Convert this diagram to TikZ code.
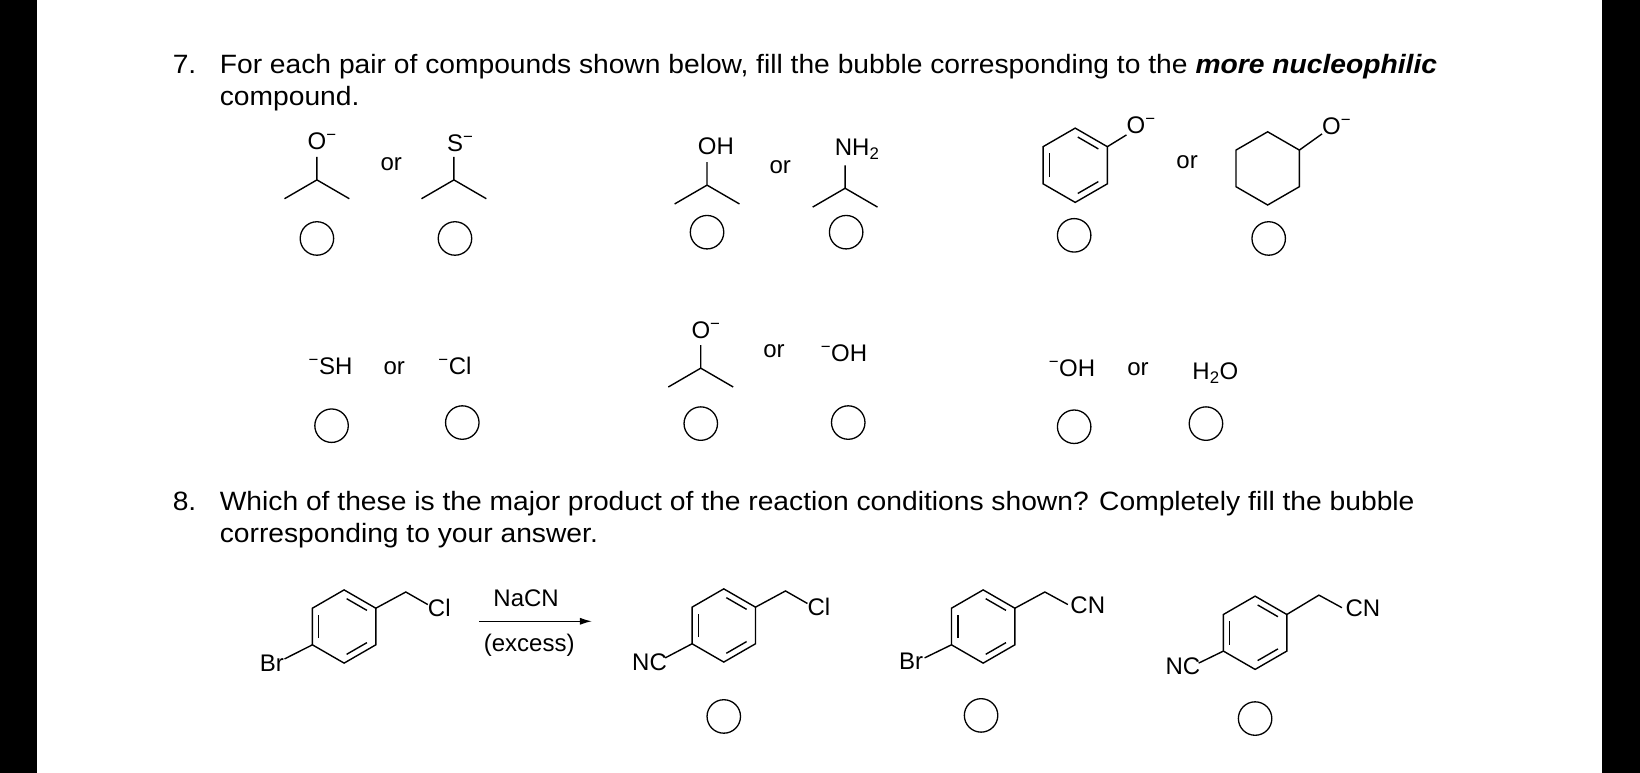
\documentclass[tikz,border=0pt]{standalone}
\usepackage{fontspec}
\setmainfont{Liberation Sans}
\newfontfamily\qfont[FakeStretch=1.065]{Liberation Sans}
\usetikzlibrary{calc,arrows.meta}
\newcommand\hexring[5]{% name, x, y, R, aromatic
  \coordinate (#1c) at (#2,#3);
  \coordinate (#1t) at (#2,#3-#4);
  \coordinate (#1ur) at (#2+0.866*#4,#3-0.5*#4);
  \coordinate (#1lr) at (#2+0.866*#4,#3+0.5*#4);
  \coordinate (#1b) at (#2,#3+#4);
  \coordinate (#1ll) at (#2-0.866*#4,#3+0.5*#4);
  \coordinate (#1ul) at (#2-0.866*#4,#3-0.5*#4);
  \draw[bond] (#1t)--(#1ur)--(#1lr)--(#1b)--(#1ll)--(#1ul)--cycle;
  \ifnum#5=1
   \foreach \a/\b in {t/ur,lr/b,ll/ul}{
     \draw[bond] ($($(#1c)!0.8!(#1\a)$)!0.1!($(#1c)!0.8!(#1\b)$)$) -- ($($(#1c)!0.8!(#1\a)$)!0.9!($(#1c)!0.8!(#1\b)$)$);
   }
  \fi
}
\begin{document}
\begin{tikzpicture}[x=1.046pt,y=-1.046pt,
  bond/.style={line width=1.4pt},
  bub/.style={line width=1.3pt},
  q/.style={font=\qfont\fontsize{26.5}{30}\selectfont,anchor=base west,inner sep=0},
  lab/.style={font=\fontsize{24}{26}\selectfont,inner sep=0}]
\fill[black] (0,0) rectangle (1568,739);
\fill[white] (35,0) rectangle (1532,739);
\useasboundingbox (0,0) rectangle (1568,739);
% question 7
\node[q] (n7) at (165,70) {7.};
\node[q] (t7a) at (210,70) {For each pair of compounds shown below, fill the bubble corresponding to the \textbf{\textit{more nucleophilic}}};
\node[q] (t7b) at (210,101) {compound.};
% row 1
\newcommand\iso[2]{%
  \draw[bond] (#1,#2) -- (#1,#2+22) -- (#1-31,#2+40);
  \draw[bond] (#1,#2+22) -- (#1+31,#2+40);}
\iso{303}{150}
\node[lab] (oa) at (308,135) {O\textsuperscript{−}};
\node[lab] (or1) at (374,157) {or};
\iso{434}{150}
\node[lab] (sb) at (440,137) {S\textsuperscript{−}};
\draw[bub] (303,228) circle (16);
\draw[bub] (435,228) circle (16);
\iso{676}{155}
\node[lab,anchor=west] (oc) at (667,140) {OH};
\node[lab] (or2) at (746,160) {or};
\iso{808}{158}
\node[lab,anchor=west] (nd) at (798,143) {NH\textsubscript{2}};
\draw[bub] (676,222) circle (16);
\draw[bub] (809,222) circle (16);
\hexring{pe}{1028}{158}{35.5}{1}
\draw[bond] (peur) -- (1077,129);
\node[lab] (oe) at (1091,120) {O\textsuperscript{−}};
\node[lab] (or3) at (1135,155) {or};
\hexring{cf}{1212}{161}{35}{0}
\draw[bond] (cfur) -- (1264,128);
\node[lab] (of) at (1278,121) {O\textsuperscript{−}};
\draw[bub] (1027,225) circle (16);
\draw[bub] (1213,228) circle (16);
% row 2
\node[lab] (sh) at (316,350) {\textsuperscript{−}SH};
\node[lab] (or4) at (377,352) {or};
\node[lab] (cl) at (435,350) {\textsuperscript{−}Cl};
\draw[bub] (317,407) circle (16);
\draw[bub] (442,404) circle (16);
\iso{670}{330}
\node[lab] (og) at (675,316) {O\textsuperscript{−}};
\node[lab] (or5) at (740,336) {or};
\node[lab] (oh) at (807,338) {\textsuperscript{−}OH};
\draw[bub] (670,405) circle (16);
\draw[bub] (811,404) circle (16);
\node[lab] (oh2) at (1025,352) {\textsuperscript{−}OH};
\node[lab] (or6) at (1088,353) {or};
\node[lab] (h2o) at (1162,357) {H\textsubscript{2}O};
\draw[bub] (1027,408) circle (16);
\draw[bub] (1153,405) circle (16);
% question 8
\node[q] (n8) at (165,488) {8.};
\node[q] (t8a) at (210,488) {Which of these is the major product of the reaction conditions shown? Completely fill the bubble};
\node[q] (t8b) at (210,519) {corresponding to your answer.};
% reactant
\hexring{ra}{329}{599}{35}{1}
\draw[bond] (rall) -- (272,630);
\node[lab] (br1) at (260,634) {Br};
\draw[bond] (raur) -- (388,566) -- (409,578);
\node[lab] (cl1) at (420,581) {Cl};
\coordinate (a1) at (458,594);
\coordinate (a2) at (566,594);
\draw[line width=1.3pt,-{Latex[length=12pt,width=7pt]}] (a1) -- (a2);
\node[lab] (nacn) at (503,572) {NaCN};
\node[lab] (exc) at (506,617) {(excess)};
% product 1
\hexring{pa}{692}{598}{35}{1}
\draw[bond] (pall) -- (636,629);
\node[lab] (nc1) at (621,633) {NC};
\draw[bond] (paur) -- (751,565) -- (772,577);
\node[lab] (cl2) at (783,580) {Cl};
\draw[bub] (692,685) circle (16);
% product 2
\hexring{pb}{940}{599}{35}{1}
\draw[bond] (pbll) -- (884,629);
\node[lab] (br2) at (871,632) {Br};
\draw[bond] (pbur) -- (999,566) -- (1021,578);
\node[lab] (cn2) at (1040,579) {CN};
\draw[bub] (938,684) circle (16);
% product 3
\hexring{pc}{1200}{605}{35}{1}
\draw[bond] (pcll) -- (1146,634);
\node[lab] (nc3) at (1131,637) {NC};
\draw[bond] (pcur) -- (1261,569) -- (1283,581);
\node[lab] (cn3) at (1303,582) {CN};
\draw[bub] (1200,687) circle (16);
\end{tikzpicture}
\end{document}
